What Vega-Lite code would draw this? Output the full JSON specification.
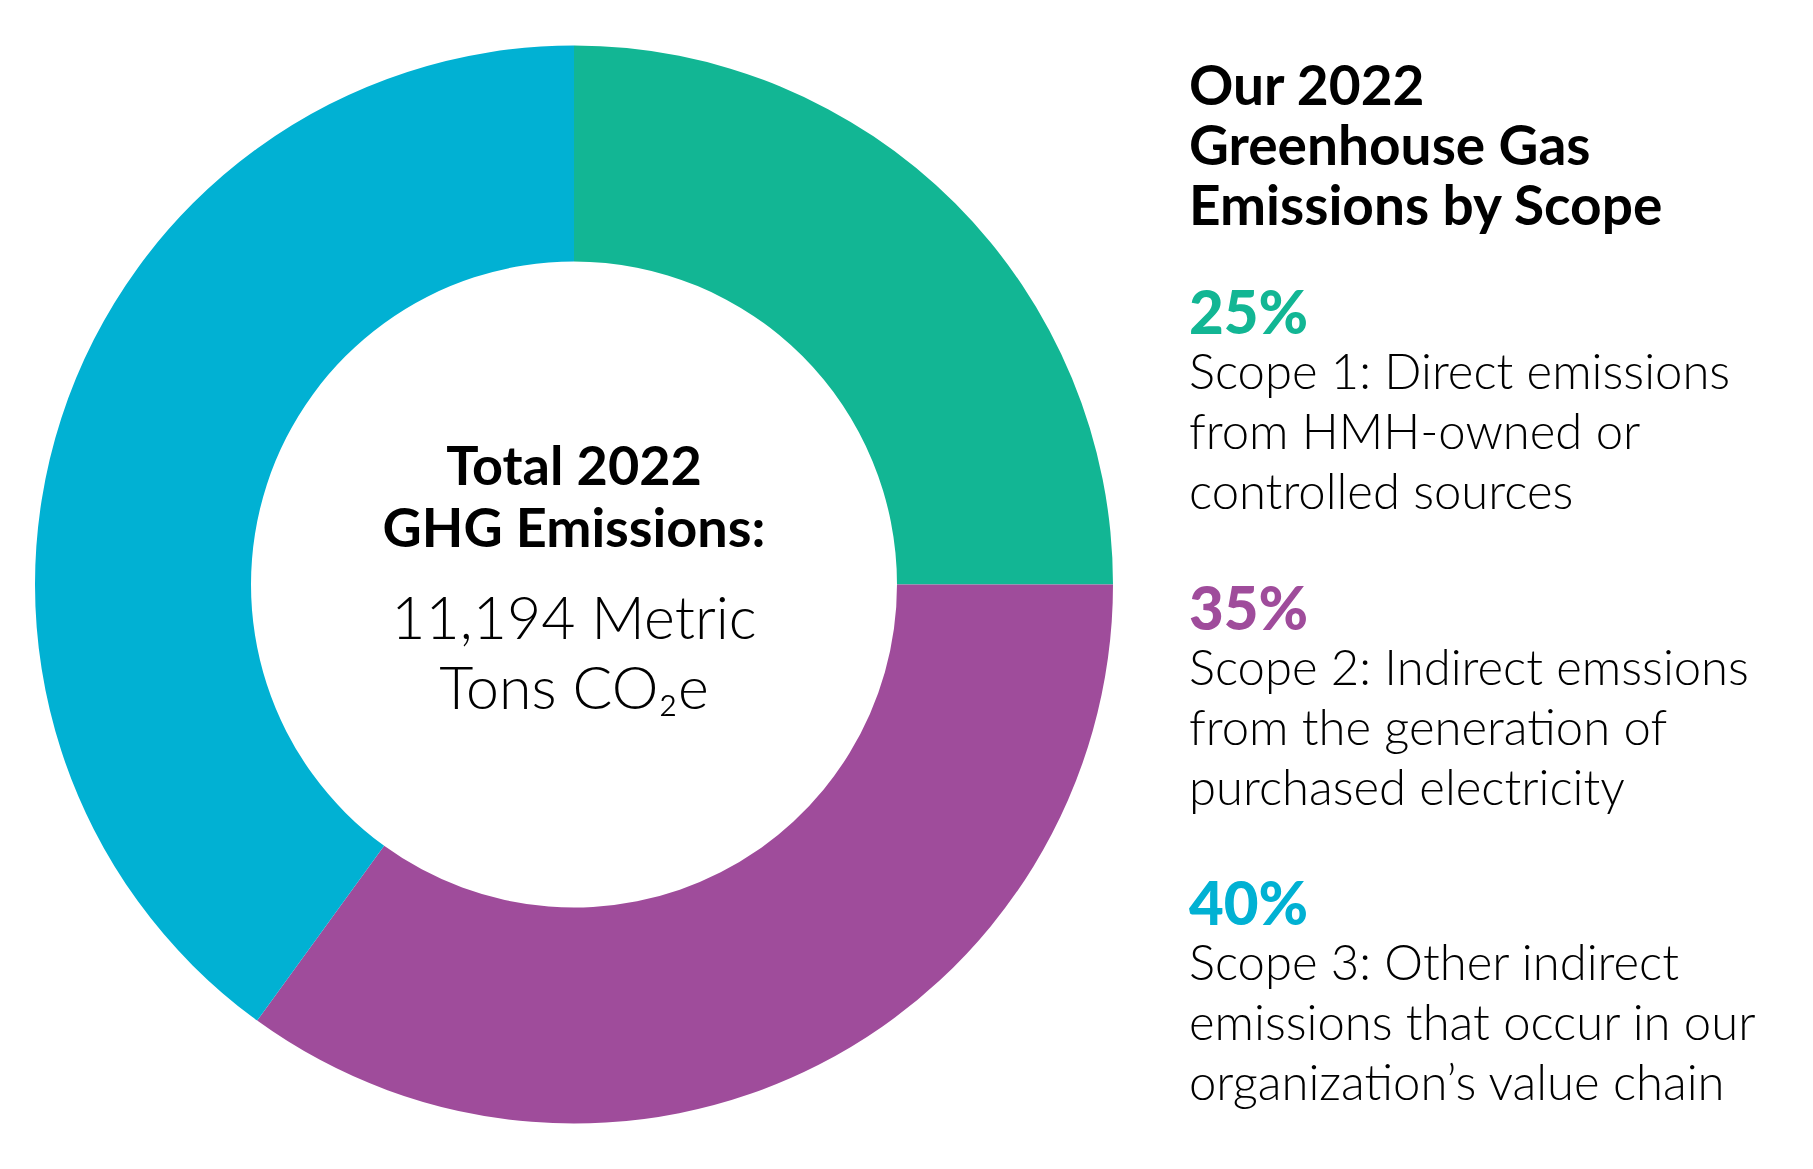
{
  "$schema": "https://vega.github.io/schema/vega-lite/v6.json",
  "padding": 0,
  "spacing": 41,
  "background": "white",
  "config": {"view": {"stroke": null}, "font": "Lato"},
  "datasets": {
    "scopes": [
      {"scope": "Scope 1", "share": 0.25, "desc": ["Scope 1: Direct emissions", "from HMH-owned or", "controlled sources"]},
      {"scope": "Scope 2", "share": 0.35, "desc": ["Scope 2: Indirect emssions", "from the generation of", "purchased electricity"]},
      {"scope": "Scope 3", "share": 0.40, "desc": ["Scope 3: Other indirect", "emissions that occur in our", "organization’s value chain"]}
    ],
    "center": [
      {"kind": "heading", "text": ["Total 2022", "GHG Emissions:"]},
      {"kind": "value", "text": ["11,194 Metric", "Tons CO₂e"]}
    ],
    "title": [
      {"block": "title", "text": ["Our 2022", "Greenhouse Gas", "Emissions by Scope"]}
    ]
  },
  "hconcat": [
    {
      "width": 1148,
      "height": 1169,
      "layer": [
        {
          "data": {"name": "scopes"},
          "mark": {"type": "arc", "innerRadius": 323, "outerRadius": 539},
          "encoding": {
            "theta": {"field": "share", "type": "quantitative", "stack": true},
            "order": {"field": "scope", "type": "ordinal"},
            "color": {"field": "scope", "type": "nominal", "legend": null,
              "scale": {"domain": ["Scope 1", "Scope 2", "Scope 3"], "range": ["#12B694", "#9F4C9B", "#01B1D3"]}}
          }
        },
        {
          "data": {"name": "center"},
          "transform": [{"filter": "datum.kind === 'heading'"}],
          "mark": {"type": "text", "align": "center", "baseline": "alphabetic", "font": "Lato", "fontWeight": 700, "fontSize": 54, "lineHeight": 62, "dy": -100, "color": "#000000"},
          "encoding": {"text": {"field": "text"}}
        },
        {
          "data": {"name": "center"},
          "transform": [{"filter": "datum.kind === 'value'"}],
          "mark": {"type": "text", "align": "center", "baseline": "alphabetic", "font": "Lato", "fontWeight": 300, "fontSize": 59, "lineHeight": 70, "dy": 54, "color": "#000000"},
          "encoding": {"text": {"field": "text"}}
        }
      ]
    },
    {
      "width": 624,
      "height": 1169,
      "encoding": {
        "x": {"datum": 0, "type": "quantitative", "scale": {"domain": [0, 1]}, "axis": null},
        "y": {"field": "block", "type": "ordinal", "axis": null,
          "scale": {"type": "point", "domain": ["title", "Scope 1", "Scope 2", "Scope 3"], "range": [39, 925], "padding": 0}}
      },
      "layer": [
        {
          "data": {"name": "title"},
          "mark": {"type": "text", "align": "left", "baseline": "alphabetic", "font": "Lato", "fontWeight": 700, "fontSize": 55, "lineHeight": 60, "dy": 66, "color": "#000000"},
          "encoding": {"text": {"field": "text"}}
        },
        {
          "data": {"name": "scopes"},
          "transform": [{"calculate": "datum.scope", "as": "block"}],
          "mark": {"type": "text", "align": "left", "baseline": "alphabetic", "font": "Lato", "fontWeight": 900, "fontSize": 60},
          "encoding": {
            "text": {"field": "share", "type": "quantitative", "format": ".0%"},
            "color": {"field": "scope", "type": "nominal", "legend": null,
              "scale": {"domain": ["Scope 1", "Scope 2", "Scope 3"], "range": ["#12B694", "#9F4C9B", "#01B1D3"]}}
          }
        },
        {
          "data": {"name": "scopes"},
          "transform": [{"calculate": "datum.scope", "as": "block"}],
          "mark": {"type": "text", "align": "left", "baseline": "alphabetic", "font": "Lato", "fontWeight": 300, "fontSize": 49, "lineHeight": 60, "dy": 55, "color": "#000000"},
          "encoding": {"text": {"field": "desc"}}
        }
      ]
    }
  ]
}
